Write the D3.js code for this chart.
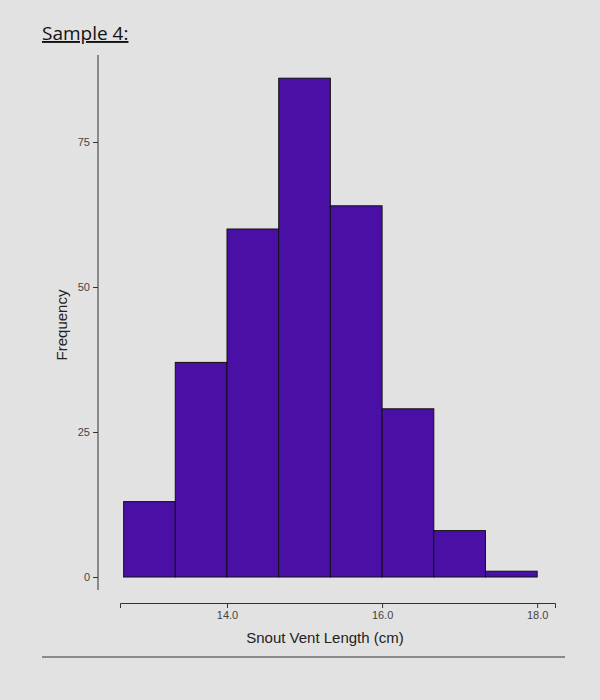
<!DOCTYPE html>
<html><head><meta charset="utf-8">
<script src="https://cdn.jsdelivr.net/npm/d3@7"></script>
<style>body{margin:0;background:#dedede}</style></head>
<body><svg id="c" width="600" height="700"></svg>
<script>
const binEdges = [12.667,13.333,14,14.667,15.333,16,16.667,17.333,18];
const counts = [13,37,60,86,64,29,8,1];
const xTicks = [14,16,18];
const yTicks = [0,25,50,75];

const svg = d3.select("#c");
svg.append("rect").attr("width",600).attr("height",700).attr("fill","#e2e2e2");
const x = d3.scaleLinear().domain([12.62,18.23]).range([120,555]);
const y = d3.scaleLinear().domain([0,25]).range([577,432]);

svg.selectAll("rect.bar").data(counts).join("rect").attr("class","bar")
 .attr("x",(d,i)=>x(binEdges[i])).attr("width",(d,i)=>x(binEdges[i+1])-x(binEdges[i]))
 .attr("y",d=>y(d)).attr("height",d=>y(0)-y(d))
 .attr("fill","#4a10a6").attr("stroke","#111").attr("stroke-width",1);

const ya = svg.append("g").attr("transform","translate(98,0)")
 .call(d3.axisLeft(y).tickValues(yTicks).tickSize(5));
ya.select(".domain").attr("d","M0,55V590");
const xa = svg.append("g").attr("transform","translate(0,603)")
 .call(d3.axisBottom(x).tickValues(xTicks).tickSize(5));
svg.selectAll(".tick text").attr("font-family","Liberation Sans, Arial").attr("font-size",11).attr("fill","#444");
svg.selectAll(".domain,.tick line").attr("stroke","#333");

svg.append("text").attr("x",230+95).attr("y",643).attr("text-anchor","middle")
 .attr("font-family","Liberation Sans, Arial").attr("font-size",15).attr("fill","#222").text("Snout Vent Length (cm)");
svg.append("text").attr("transform","translate(67,325) rotate(-90)").attr("text-anchor","middle")
 .attr("font-family","Liberation Sans, Arial").attr("font-size",15).attr("fill","#222").text("Frequency");
svg.append("text").attr("x",42).attr("y",40).attr("font-family","Open Sans, Liberation Sans").attr("font-size",19)
 .attr("fill","#111").attr("text-decoration","underline").text("Sample 4:");
svg.append("line").attr("x1",42).attr("x2",565).attr("y1",657).attr("y2",657).attr("stroke","#333");
</script></body></html>
